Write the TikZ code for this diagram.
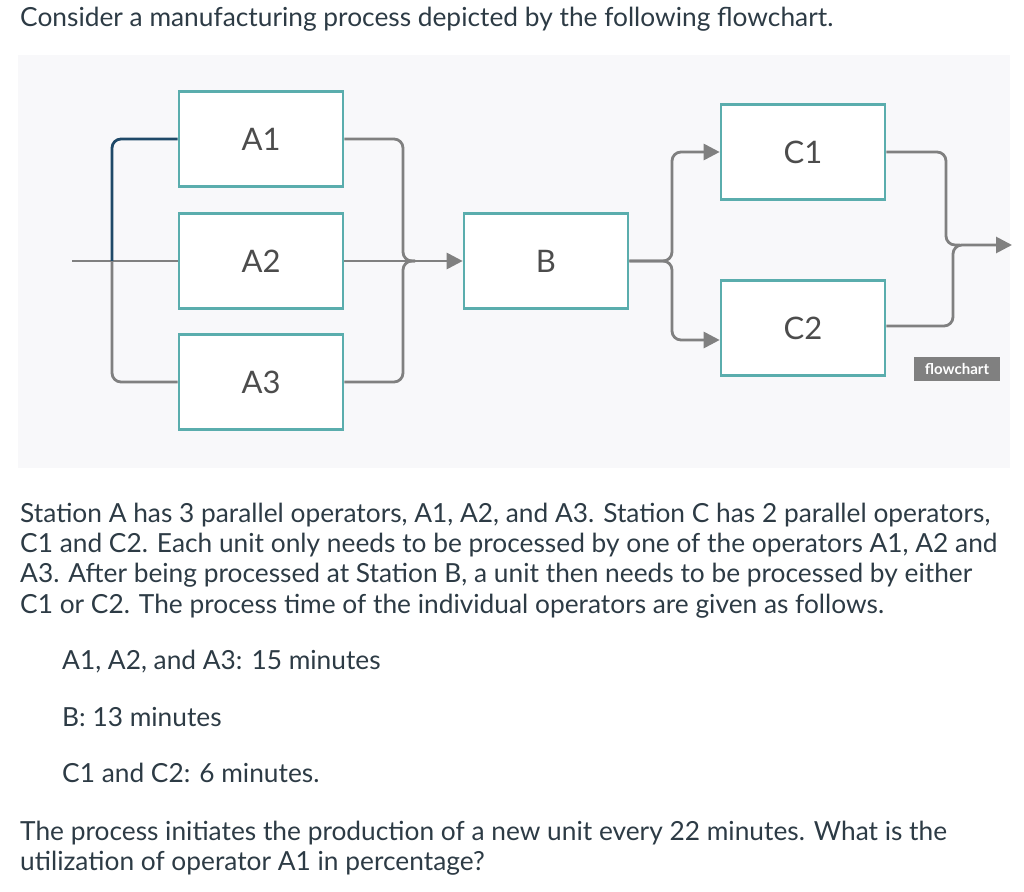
\documentclass[tikz,border=0pt]{standalone}
\usepackage{fontspec}
\setmainfont{Lato}
\usetikzlibrary{arrows.meta}
\definecolor{teal1}{HTML}{5AADAD}
\definecolor{ln}{HTML}{808080}
\definecolor{dk}{HTML}{1F4968}
\definecolor{bg}{HTML}{F8F8FA}
\definecolor{tx}{HTML}{2D3B45}
\begin{document}
\begin{tikzpicture}[x=1pt,y=-1pt,
  box/.style={draw=teal1,line width=2.6pt,fill=white,minimum width=164pt,minimum height=95pt,inner sep=0pt,font=\fontsize{31}{34}\selectfont,text=black!70},
  conn/.style={draw=ln,line width=2.8pt,rounded corners=9pt},
  arr/.style={conn,-{Triangle[length=16pt,width=16pt]}},
  txt/.style={anchor=base west,inner sep=0pt,font=\fontsize{26.3}{30}\selectfont,text=tx}]
\useasboundingbox (0,0) rectangle (1024,891);
\fill[bg] (18,55) rectangle (1010,468);
\node[box] (A1) at (261,139) {A1};
\node[box] (A2) at (261,261) {A2};
\node[box] (A3) at (261,382) {A3};
\node[box] (B) at (546,261) {B};
\node[box] (C1) at (803,152) {C1};
\node[box] (C2) at (803,328) {C2};
\coordinate (in) at (72,261);
\coordinate (out) at (1012,245);
\coordinate (jb) at (112,261);
\draw[conn] (in) -- (A2.west);
\draw[conn,draw=dk] (jb) -- (112,139) -- (A1.west);
\draw[conn] (jb) -- (112,382) -- (A3.west);
\draw[conn] (A1.east) -- (403,139) -- (403,261) -- (415,261);
\draw[conn] (A3.east) -- (403,382) -- (403,261) -- (415,261);
\draw[arr] (A2.east) -- (B.west);
\draw[arr] (B.east) -- (672,261) -- (672,152) -- (C1.west);
\draw[arr] (B.east) -- (672,261) -- (672,340) -- (C2.west |- 0,340);
\draw[conn] (C1.east) -- (946,152) -- (946,245) -- (960,245);
\draw[arr] (C2.east |- 0,326) -- (953,326) -- (953,245) -- (out);
\node[fill=ln,text=white,font=\bfseries\fontsize{15}{17}\selectfont,minimum width=86pt,minimum height=24pt,inner sep=0pt] (fc) at (957,369) {flowchart};
\node[txt] (t0) at (20,27) {Consider a manufacturing process depicted by the following flowchart.};
\node[txt] (p1) at (20,522) {Station A has 3 parallel operators, A1, A2, and A3. Station C has 2 parallel operators,};
\node[txt] (p2) at (20,552) {C1 and C2. Each unit only needs to be processed by one of the operators A1, A2 and};
\node[txt] (p3) at (20,582) {A3. After being processed at Station B, a unit then needs to be processed by either};
\node[txt] (p4) at (20,613) {C1 or C2. The process time of the individual operators are given as follows.};
\node[txt] (l1) at (62,669) {A1, A2, and A3: 15 minutes};
\node[txt] (l2) at (62,726) {B: 13 minutes};
\node[txt] (l3) at (62,782) {C1 and C2: 6 minutes.};
\node[txt] (q1) at (20,840) {The process initiates the production of a new unit every 22 minutes. What is the};
\node[txt] (q2) at (20,870) {utilization of operator A1 in percentage?};
\end{tikzpicture}
\end{document}
